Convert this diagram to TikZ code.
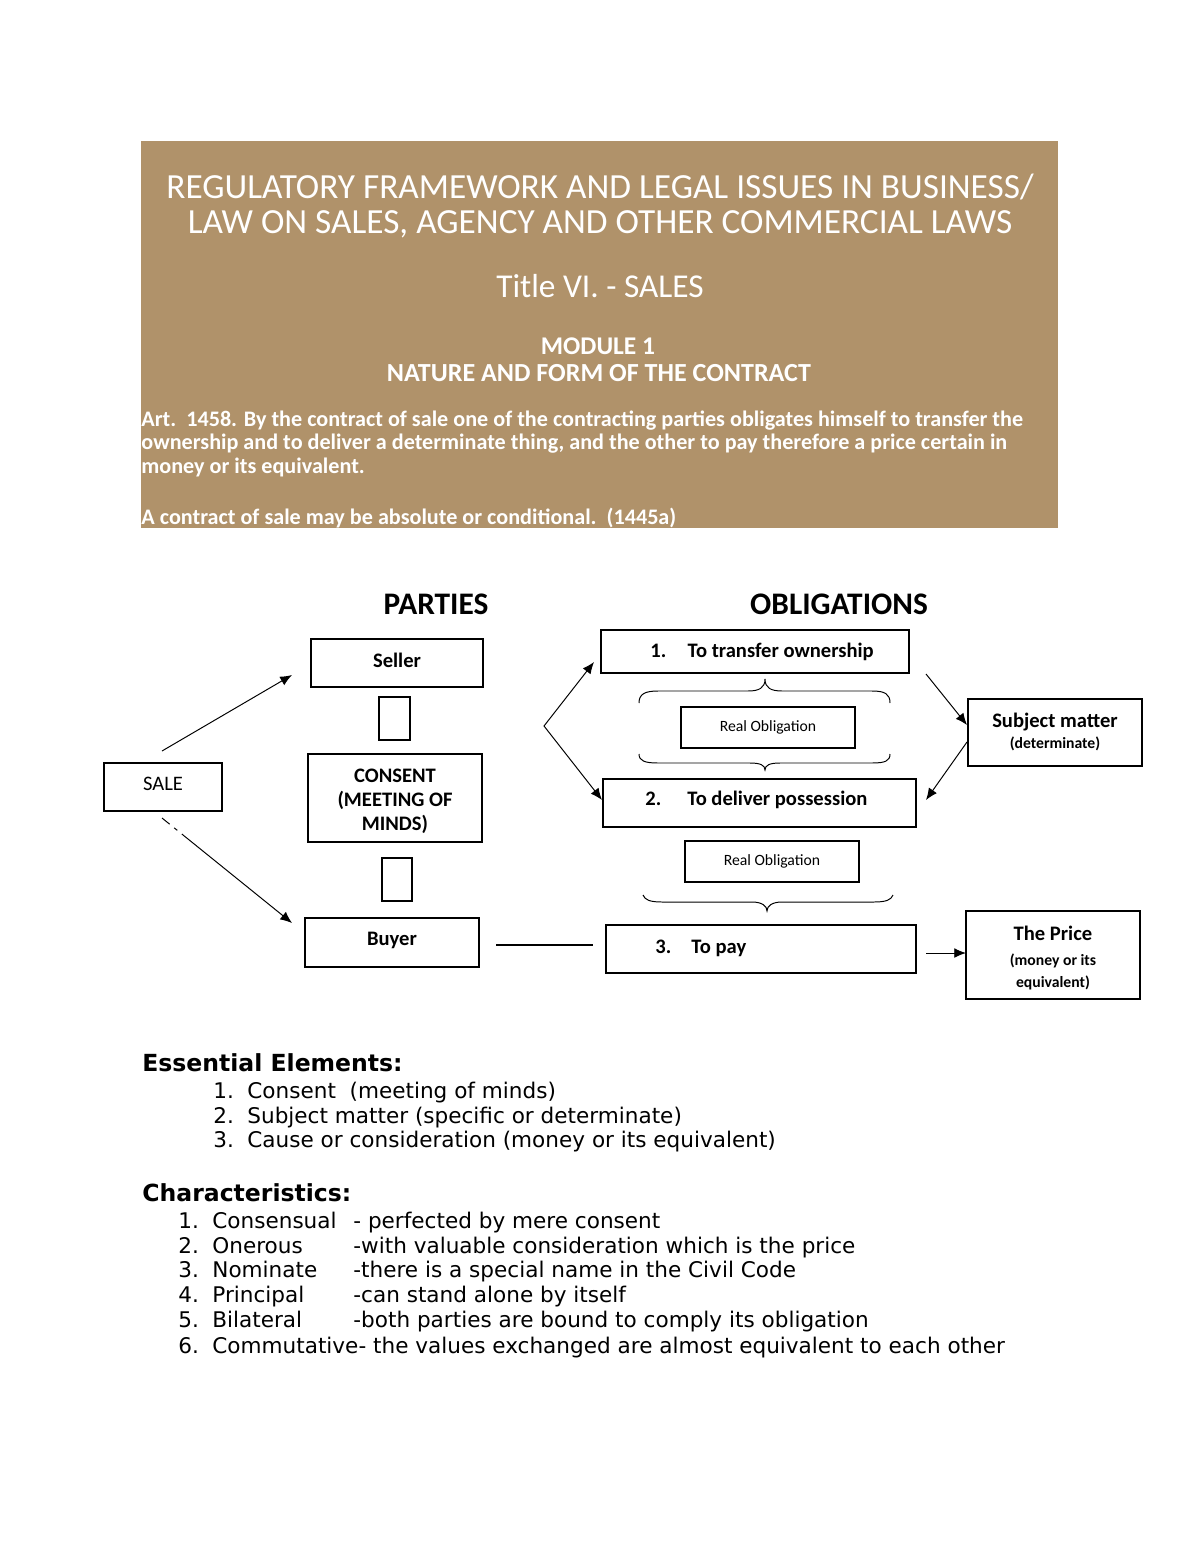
\documentclass[tikz,border=0pt]{standalone}
\usepackage{fontspec}
\setmainfont{Carlito}
\newfontfamily\dv{DejaVu Sans}
\usetikzlibrary{arrows.meta,fit}
\definecolor{hdr}{RGB}{176,146,106}
\begin{document}
\begin{tikzpicture}[x=0.51pt,y=-0.51pt,
  box/.style={draw, line width=0.65pt, inner sep=0pt},
  lbl/.style={inner sep=0pt, font=\fontsize{10.5}{12.2}\selectfont\bfseries},
  small/.style={inner sep=0pt, font=\fontsize{8}{9.5}\selectfont},
  hd/.style={text=white, inner sep=0pt},
  arr/.style={line width=0.5pt, -{Latex[length=6pt,width=5pt]}},
  br/.style={line width=0.5pt},
  lst/.style={anchor=base west, inner sep=0pt, font=\dv\fontsize{11}{13}\selectfont},
  lsth/.style={anchor=base west, inner sep=0pt, font=\dv\bfseries\fontsize{12}{14}\selectfont},
]
\useasboundingbox (0,0) rectangle (1200,1553);
% header
\node[fill=hdr, inner sep=0pt, fit={(141,141) (1058,528)}] (header) {};
\node[hd, font=\fontsize{18}{20}\selectfont] (h1) at (600,187) {REGULATORY FRAMEWORK AND LEGAL ISSUES IN BUSINESS/};
\node[hd, font=\fontsize{18}{20}\selectfont] (h2) at (600,224) {LAW ON SALES, AGENCY AND OTHER COMMERCIAL LAWS};
\node[hd, font=\fontsize{17}{20}\selectfont] (h3) at (600,286) {Title VI. - SALES};
\node[hd, font=\fontsize{13}{15}\selectfont\bfseries] (h4) at (598,346) {MODULE 1};
\node[hd, font=\fontsize{13.3}{15}\selectfont\bfseries] (h5) at (599,373) {NATURE AND FORM OF THE CONTRACT};
\node[hd, anchor=west, font=\fontsize{11.3}{13}\selectfont\bfseries] (h6) at (141,421) {Art.\ \ 1458. By the contract of sale one of the contracting parties obligates himself to transfer the};
\node[hd, anchor=west, font=\fontsize{11.3}{13}\selectfont\bfseries] (h7) at (141,444) {ownership and to deliver a determinate thing, and the other to pay therefore a price certain in};
\node[hd, anchor=west, font=\fontsize{11.3}{13}\selectfont\bfseries] (h8) at (141,467) {money or its equivalent.};
\node[hd, anchor=west, font=\fontsize{11.3}{13}\selectfont\bfseries] (h9) at (141,518) {A contract of sale may be absolute or conditional.\ \ (1445a)};

% column titles
\node[inner sep=0pt, font=\fontsize{16}{18}\selectfont\bfseries] (parties) at (436,604) {PARTIES};
\node[inner sep=0pt, font=\fontsize{16}{18}\selectfont\bfseries] (oblig) at (839,604) {OBLIGATIONS};

% boxes
\node[box, fit={(104,763) (222,811)}] (sale) {};
\node[box, fit={(311,639) (483,687)}] (seller) {};
\node[box, fit={(379,697) (410,740)}] (sq1) {};
\node[box, fit={(308,754) (482,842)}] (consent) {};
\node[box, fit={(382,858) (412,901)}] (sq2) {};
\node[box, fit={(305,918) (479,967)}] (buyer) {};
\node[box, fit={(601,630) (909,673)}] (ob1) {};
\node[box, fit={(681,707) (855,748)}] (ro1) {};
\node[box, fit={(603,779) (916,827)}] (ob2) {};
\node[box, fit={(685,841) (859,882)}] (ro2) {};
\node[box, fit={(606,925) (916,973)}] (ob3) {};
\node[box, fit={(968,699) (1142,766)}] (subj) {};
\node[box, fit={(966,911) (1140,999)}] (price) {};

% box texts
\node[inner sep=0pt, font=\fontsize{10.5}{12}\selectfont] (saletxt) at (163,784) {SALE};
\node[lbl] (sellertxt) at (397,660) {Seller};
\node[lbl, align=center] (consenttxt) at (395,801) {CONSENT\\(MEETING OF\\MINDS)};
\node[lbl] (buyertxt) at (392,940) {Buyer};
\node[lbl, anchor=west] (ob1txt) at (650,652) {\makebox[19pt][l]{1.}To transfer ownership};
\node[lbl, anchor=west] (ob2txt) at (645,800) {\makebox[21.4pt][l]{2.}To deliver possession};
\node[lbl, anchor=west] (ob3txt) at (655,948) {\makebox[18.4pt][l]{3.}To pay};
\node[small] (ro1txt) at (768,727) {Real Obligation};
\node[small] (ro2txt) at (772,861) {Real Obligation};
\node[lbl] (subjtxt) at (1055,722) {Subject matter};
\node[small, font=\fontsize{8}{9.5}\selectfont\bfseries] (subjtxt2) at (1055,744) {(determinate)};
\node[lbl] (pricetxt) at (1053,933) {The Price};
\node[small, font=\fontsize{8}{9.5}\selectfont\bfseries, align=center] (pricetxt2) at (1053,972) {(money or its\\[1.5pt]equivalent)};

% connectors
\coordinate (a1s) at (162,751); \coordinate (a1e) at (292,675);
\draw[arr] (a1s) -- (a1e);
\coordinate (a2s) at (162,818); \coordinate (a2e) at (292,923);
\draw[arr, dash pattern=on 5pt off 3pt on 2pt off 3pt on 300pt] (a2s) -- (a2e);
\coordinate (v) at (544,726);
\coordinate (l1) at (594,662); \coordinate (l2) at (602,800);
\draw[line width=0.5pt, {Latex[length=6pt,width=5pt]}-{Latex[length=6pt,width=5pt]}] (l1) -- (v) -- (l2);
\coordinate (r1s) at (926,674); \coordinate (r1e) at (967,725);
\draw[arr] (r1s) -- (r1e);
\coordinate (r2s) at (967,742); \coordinate (r2e) at (926,800);
\draw[arr] (r2s) -- (r2e);
\coordinate (p1s) at (926,953); \coordinate (p1e) at (966,953);
\draw[arr] (p1s) -- (p1e);
\coordinate (b1s) at (496,945); \coordinate (b1e) at (593,945);
\draw[line width=0.6pt] (b1s) -- (b1e);

% braces
\draw[br] (639,703) .. controls (639,694) and (645,691) .. (658,691) -- (748,691) .. controls (759,691) and (765,688) .. (765,679) .. controls (765,688) and (771,691) .. (782,691) -- (872,691) .. controls (885,691) and (890,694) .. (890,703);
\draw[br] (639,754) .. controls (639,761) and (645,763) .. (658,763) -- (750,763) .. controls (760,763) and (765,765) .. (765,770) .. controls (765,765) and (770,763) .. (780,763) -- (872,763) .. controls (885,763) and (890,761) .. (890,754);
\draw[br] (643,895) .. controls (645,900) and (650,902) .. (662,902) -- (752,902) .. controls (762,902) and (767,906) .. (767,911) .. controls (767,906) and (772,902) .. (782,902) -- (874,902) .. controls (886,902) and (891,900) .. (893,895);

% lists
\node[lsth] (ess) at (142,1071) {Essential Elements:};
\node[lst] (e1n) at (213,1098) {1.};
\node[lst] (e1) at (247,1098) {Consent\ \ (meeting of minds)};
\node[lst] (e2n) at (213,1123) {2.};
\node[lst] (e2) at (247,1123) {Subject matter (specific or determinate)};
\node[lst] (e3n) at (213,1147) {3.};
\node[lst] (e3) at (247,1147) {Cause or consideration (money or its equivalent)};

\node[lsth] (chr) at (142,1201) {Characteristics:};
\node[lst] (c1n) at (178,1228) {1.};
\node[lst] (c1) at (212,1228) {Consensual};
\node[lst] (c1d) at (353,1228) {- perfected by mere consent};
\node[lst] (c2n) at (178,1253) {2.};
\node[lst] (c2) at (212,1253) {Onerous};
\node[lst] (c2d) at (353,1253) {-with valuable consideration which is the price};
\node[lst] (c3n) at (178,1277) {3.};
\node[lst] (c3) at (212,1277) {Nominate};
\node[lst] (c3d) at (353,1277) {-there is a special name in the Civil Code};
\node[lst] (c4n) at (178,1302) {4.};
\node[lst] (c4) at (212,1302) {Principal};
\node[lst] (c4d) at (353,1302) {-can stand alone by itself};
\node[lst] (c5n) at (178,1327) {5.};
\node[lst] (c5) at (212,1327) {Bilateral};
\node[lst] (c5d) at (353,1327) {-both parties are bound to comply its obligation};
\node[lst] (c6n) at (178,1353) {6.};
\node[lst] (c6) at (212,1353) {Commutative- the values exchanged are almost equivalent to each other};
\end{tikzpicture}
\end{document}
